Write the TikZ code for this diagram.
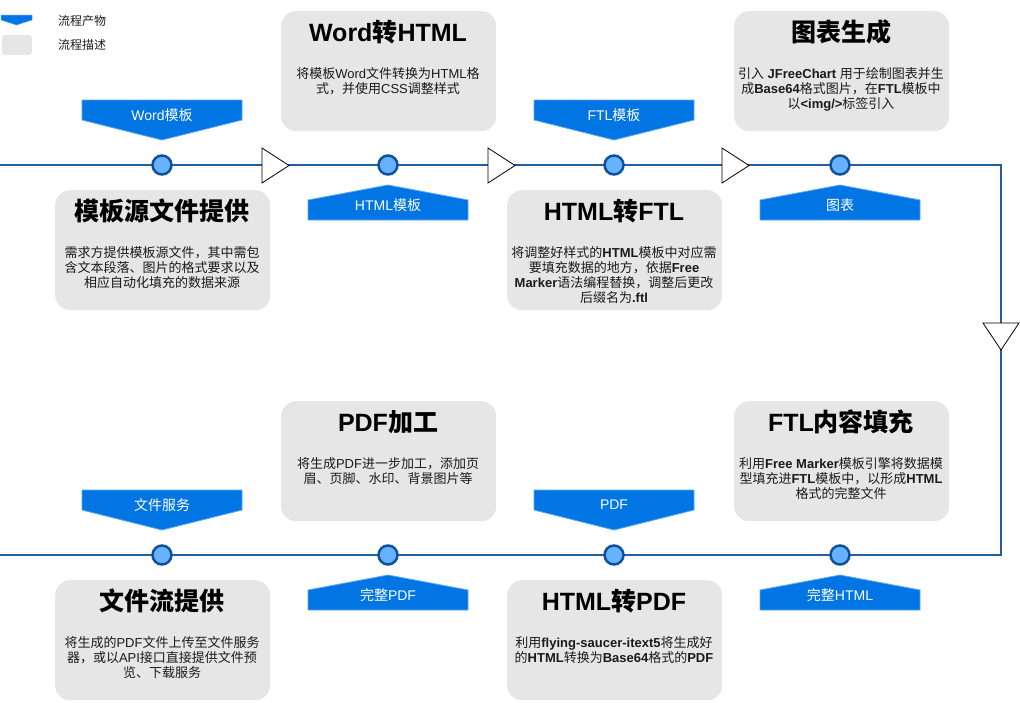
\documentclass[tikz,border=0pt]{standalone}
\usepackage{fontspec}
\setmainfont{Liberation Sans}
\newfontfamily\latfam{Liberation Sans}
\newfontfamily\cjkfam{Noto Sans CJK SC}
\newcount\cjkcnt
\chardef\cjkcls=7
\def\setcjkrange#1#2{\cjkcnt=#1\relax\loop\XeTeXcharclass\cjkcnt=\cjkcls\relax\ifnum\cjkcnt<#2\relax\advance\cjkcnt by 1\relax\repeat}
\setcjkrange{"3000}{"303F}
\setcjkrange{"4E00}{"9FFF}
\setcjkrange{"FF00}{"FFEF}
\XeTeXinterchartoks 0 7={\cjkfam}
\XeTeXinterchartoks 1 7={\cjkfam}
\XeTeXinterchartoks 2 7={\cjkfam}
\XeTeXinterchartoks 3 7={\cjkfam}
\XeTeXinterchartoks 4095 7={\cjkfam}
\XeTeXinterchartoks 7 0={\latfam}
\XeTeXinterchartoks 7 1={\latfam}
\XeTeXinterchartoks 7 2={\latfam}
\XeTeXinterchartoks 7 3={\latfam}
\XeTeXinterchartoks 7 4095={\latfam}
\XeTeXinterchartokenstate=1

\definecolor{tagblue}{HTML}{0075E3}
\definecolor{tagedge}{HTML}{5AA9F5}
\definecolor{dotfill}{HTML}{66B2FF}
\definecolor{dotedge}{HTML}{10529A}
\definecolor{linecol}{HTML}{21609F}
\definecolor{boxgray}{HTML}{E6E6E6}
\definecolor{desccol}{HTML}{1A1A1A}

\tikzset{
  flow/.style={draw=linecol, line width=2pt},
  dot/.style={circle, fill=dotfill, draw=dotedge, line width=2.5pt, minimum size=19pt, inner sep=0pt},
  marker/.style={fill=white, draw=black, line width=0.8pt, line join=miter},
  tagshape/.style={fill=tagblue, draw=tagedge, line width=0.8pt},
  tagtext/.style={text=white, font=\fontsize{14}{16}\selectfont, inner sep=0pt},
  graybox/.style={fill=boxgray, rounded corners=15pt, inner sep=0pt, minimum width=215pt, minimum height=120pt},
  titletext/.style={font=\bfseries\fontsize{25}{28}\selectfont, inner sep=0pt},
  desctext/.style={font=\fontsize{13}{15}\selectfont, text=desccol, align=center, inner sep=0pt},
  legendtext/.style={font=\fontsize{12}{14}\selectfont, text=desccol, inner sep=0pt, anchor=west}
}

\newcommand\downtag[4]{%
  \filldraw[tagshape] ({#1-80},#2) -- ({#1+80},#2) -- ({#1+80},{#2+20}) -- (#1,{#2+40}) -- ({#1-80},{#2+20}) -- cycle;
  \node[tagtext] (#3) at (#1,{#2+15}) {#4};}
\newcommand\uptag[4]{%
  \filldraw[tagshape] (#1,#2) -- ({#1+80},{#2+15}) -- ({#1+80},{#2+35}) -- ({#1-80},{#2+35}) -- ({#1-80},{#2+15}) -- cycle;
  \node[tagtext] (#3) at (#1,{#2+20}) {#4};}
\newcommand\stagebox[5]{%
  \node[graybox, anchor=north west] (#1) at (#2,#3) {};
  \node[titletext] (#1t) at ({#2+107},{#3+21}) {#4};
  \node[desctext, anchor=north] (#1d) at ({#2+107},{#3+56}) {#5};}

\begin{document}
\begin{tikzpicture}[x=1pt,y=-1pt]
\useasboundingbox (0,0) rectangle (1020,702);

% legend
\filldraw[fill=tagblue, draw=tagedge, line width=0.5pt] (1,15) -- (32,15) -- (32,20) -- (16.5,25) -- (1,20) -- cycle;
\fill[boxgray, rounded corners=3pt] (2,35) rectangle (32,55);
\node[legendtext] (lg1) at (58,21) {流程产物};
\node[legendtext] (lg2) at (58,45) {流程描述};

% main flow line
\coordinate (start) at (0,165);
\coordinate (cornerA) at (1001,165);
\coordinate (cornerB) at (1001,555);
\coordinate (finish) at (0,555);
\draw[flow] (start) -- (cornerA) -- (cornerB) -- (finish);

% direction markers
\filldraw[marker] (262,148) -- (289,165.5) -- (262,183) -- cycle;
\filldraw[marker] (488,148) -- (515,165.5) -- (488,183) -- cycle;
\filldraw[marker] (722,148) -- (749,165.5) -- (722,183) -- cycle;
\filldraw[marker] (983,323) -- (1019,323) -- (1001,350) -- cycle;

% dots
\node[dot] (c1) at (162,165) {};
\node[dot] (c2) at (388,165) {};
\node[dot] (c3) at (614,165) {};
\node[dot] (c4) at (840,165) {};
\node[dot] (c5) at (162,555) {};
\node[dot] (c6) at (388,555) {};
\node[dot] (c7) at (614,555) {};
\node[dot] (c8) at (840,555) {};

% product tags
\downtag{162}{100}{g1}{Word模板}
\uptag{388}{185}{g2}{HTML模板}
\downtag{614}{100}{g3}{FTL模板}
\uptag{840}{185}{g4}{图表}
\downtag{162}{490}{g5}{文件服务}
\uptag{388}{575}{g6}{完整PDF}
\downtag{614}{490}{g7}{PDF}
\uptag{840}{575}{g8}{完整HTML}

% description boxes
\stagebox{b1}{55}{190}{模板源文件提供}{需求方提供模板源文件，其中需包\\含文本段落、图片的格式要求以及\\相应自动化填充的数据来源}
\stagebox{b2}{281}{11}{Word转HTML}{将模板Word文件转换为HTML格\\式，并使用CSS调整样式}
\stagebox{b3}{507}{190}{HTML转FTL}{将调整好样式的\textbf{HTML}模板中对应需\\要填充数据的地方，依据\textbf{Free}\\\textbf{Marker}语法编程替换，调整后更改\\后缀名为\textbf{.ftl}}
\stagebox{b4}{734}{11}{图表生成}{引入 \textbf{JFreeChart} 用于绘制图表并生\\成\textbf{Base64}格式图片，在\textbf{FTL}模板中\\以\textbf{<img/>}标签引入}
\stagebox{b5}{281}{401}{PDF加工}{将生成PDF进一步加工，添加页\\眉、页脚、水印、背景图片等}
\stagebox{b6}{734}{401}{FTL内容填充}{利用\textbf{Free Marker}模板引擎将数据模\\型填充进\textbf{FTL}模板中，以形成\textbf{HTML}\\格式的完整文件}
\stagebox{b7}{55}{580}{文件流提供}{将生成的PDF文件上传至文件服务\\器，或以API接口直接提供文件预\\览、下载服务}
\stagebox{b8}{507}{580}{HTML转PDF}{利用\textbf{flying-saucer-itext5}将生成好\\的\textbf{HTML}转换为\textbf{Base64}格式的\textbf{PDF}}
\end{tikzpicture}
\end{document}
